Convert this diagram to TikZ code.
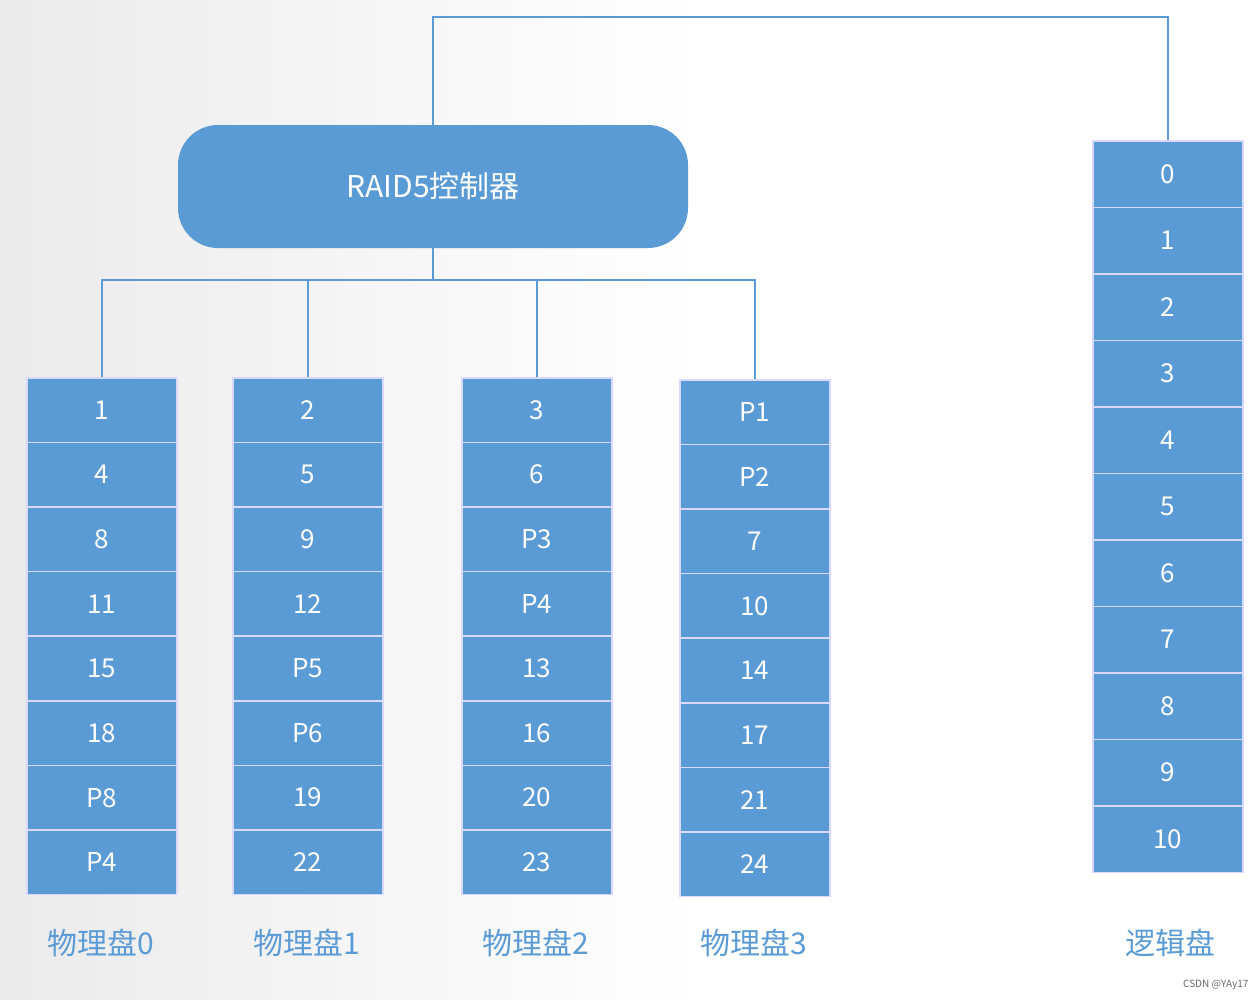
\documentclass[tikz,border=0pt]{standalone}
\usepackage{fontspec}
\setmainfont{Noto Sans CJK SC}
\begin{document}
\begin{tikzpicture}[x=1pt,y=-1pt,
  cell/.style={draw=white!85!blue,line width=1.5pt,fill=cellblue,minimum width=150pt,minimum height=64.6pt,inner sep=0pt,text=white,font=\fontsize{26}{26}\selectfont,anchor=north west},
  lcell/.style={cell,minimum height=66.5pt},
  lab/.style={text=cellblue,font=\fontsize{30}{30}\selectfont},
  wire/.style={draw=cellblue,line width=2pt}]
\definecolor{cellblue}{RGB}{91,155,213}
\useasboundingbox (0,0) rectangle (1258,999);
\shade[left color=black!8,right color=white] (0,0) rectangle (700,999);
\node[fill=cellblue,rounded corners=40pt,minimum width=510pt,minimum height=123pt,text=white,font=\fontsize{30}{30}\selectfont] (ctrl) at (433,186.5) {RAID5控制器};
\foreach \d/\x/\y/\vals in {0/26/377/{1,4,8,11,15,18,P8,P4},1/232/377/{2,5,9,12,P5,P6,19,22},2/461/377/{3,6,P3,P4,13,16,20,23},3/679/379/{P1,P2,7,10,14,17,21,24}}{
  \foreach \v [count=\i from 0] in \vals {
    \node[cell] (d\d-\i) at (\x,\y+\i*64.6) {\v};
  }
  \node[lab] (l\d) at (\x+75,943) {物理盘\d};
}
\foreach \v [count=\i from 0] in {0,1,2,3,4,5,6,7,8,9,10}{
  \node[lcell] (g\i) at (1092,140+\i*66.5) {\v};
}
\node[lab] (lg) at (1170,943) {逻辑盘};
\coordinate (top) at (433,17);
\coordinate (mid) at (433,280);
\draw[wire] (ctrl.north) -- (top) -| (g0.north);
\draw[wire] (ctrl.south) -- (mid);
\foreach \d in {0,1,2,3}{ \draw[wire] (mid) -| (d\d-0.north); }
\node[text=black!60,font=\fontsize{10}{10}\selectfont,anchor=south east] (wm) at (1252,993) {CSDN @YAy17};
\end{tikzpicture}
\end{document}
